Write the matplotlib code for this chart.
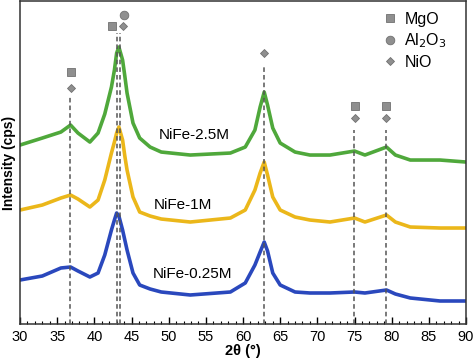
import matplotlib
matplotlib.use('Agg')
import matplotlib.pyplot as plt
from matplotlib.lines import Line2D
from matplotlib.ticker import MultipleLocator
import numpy as np

plt.rcParams['font.family'] = ['Liberation Sans', 'DejaVu Sans']

# 2θ values read along the patterns
two_theta = [30, 33, 35.5, 36.8, 37.8, 39.4, 40.5, 41.4, 42.3, 42.7, 43.0, 43.3,
             43.8, 44.1, 44.4, 45.2, 46.1, 47.5, 49, 52.9, 58.3, 60.3, 61.6,
             62.3, 62.85, 63.3, 64.0, 65.0, 67.0, 69.0, 71.7, 75.0, 76.4, 79.3,
             80.5, 82.5, 86.5, 90]

# intensities (arbitrary, stacked)
nife_25 = [179, 186, 192, 199, 191, 182, 191, 210, 237, 254, 271, 277, 264, 248,
           231, 201, 186, 177, 172, 169, 171, 177, 194, 217, 232, 219, 196, 181,
           172, 169, 169, 173, 169, 177, 169, 164, 164, 162]
nife_1 = [114, 119, 126, 129, 125, 117, 124, 144, 171, 182, 191, 197, 184, 168,
          154, 127, 112, 108, 105, 102, 106, 114, 134, 151, 162, 149, 127, 114,
          107, 104, 102, 106, 102, 109, 102, 97, 96, 96]
nife_025 = [44, 48, 56, 57, 53, 47, 51, 69, 94, 104, 111, 108, 94, 84, 74, 51,
            39, 35, 32, 29, 32, 41, 59, 72, 82, 73, 51, 39, 32, 31, 31, 32, 31,
            34, 30, 26, 23, 23]

# reference lines
ref_pos = [36.75, 43.0, 43.4, 62.8, 74.95, 79.25]
ref_top = [227, 291, 291, 259, 194, 194]

# phase markers
mgo_x = [36.8, 42.4, 75.0, 79.25]
mgo_y = [252, 298, 218, 218]
al2o3_x = [43.95]
al2o3_y = [309]
nio_x = [36.8, 43.9, 62.85, 75.0, 79.25]
nio_y = [236, 298, 271, 206, 206]

labels = ['NiFe-2.5M', 'NiFe-1M', 'NiFe-0.25M']
label_x = [48.7, 48.0, 47.9]
label_y = [189, 119, 50]

fig = plt.figure(figsize=(4.74, 3.58), dpi=100)
ax = fig.add_axes([0.0422, 0.095, 0.941, 0.902])

ax.plot(two_theta, nife_25, color='#4fa83b', lw=2.6, zorder=2)
ax.plot(two_theta, nife_1, color='#ebb71a', lw=2.6, zorder=2)
ax.plot(two_theta, nife_025, color='#2a48bd', lw=2.6, zorder=2)

ax.vlines(ref_pos, 0, ref_top, colors='#555555', linestyles=(0, (3, 2)),
          lw=1.1, zorder=3)

mk = dict(color='#8f8f8f', mec='#707070', mew=0.6, ls='none', zorder=4)
ax.plot(mgo_x, mgo_y, marker='s', ms=6, **mk)
ax.plot(al2o3_x, al2o3_y, marker='o', ms=6.2, **mk)
ax.plot(nio_x, nio_y, marker='D', ms=4, **mk)

for t, x, y in zip(labels, label_x, label_y):
    ax.text(x, y, t, fontsize=11, va='center', ha='left')

handles = [Line2D([], [], marker='s', ms=6, **mk),
           Line2D([], [], marker='o', ms=6.2, **mk),
           Line2D([], [], marker='D', ms=4, **mk)]
ax.legend(handles, ['MgO', 'Al$_2$O$_3$', 'NiO'], loc='upper left',
          bbox_to_anchor=(0.783, 1.012), frameon=False, fontsize=11.5,
          handlelength=0.8, handletextpad=0.5, labelspacing=0.3)

ax.set_xlim(30, 90)
ax.set_ylim(0, 323)
ax.xaxis.set_major_locator(MultipleLocator(5))
ax.xaxis.set_minor_locator(MultipleLocator(1))
ax.tick_params(axis='x', which='major', direction='in', length=5, width=1,
               labelsize=10.5, pad=4)
ax.tick_params(axis='x', which='minor', direction='in', length=2.5, width=0.8)
ax.set_yticks([])
for s in ax.spines.values():
    s.set_linewidth(1.1)
    s.set_color('#333333')

ax.set_xlabel('2θ (°)', fontsize=10.5, fontweight='bold', labelpad=0)
ax.set_ylabel('Intensity (cps)', fontsize=10, fontweight='bold', labelpad=3)

fig.savefig('out.png', dpi=100)
